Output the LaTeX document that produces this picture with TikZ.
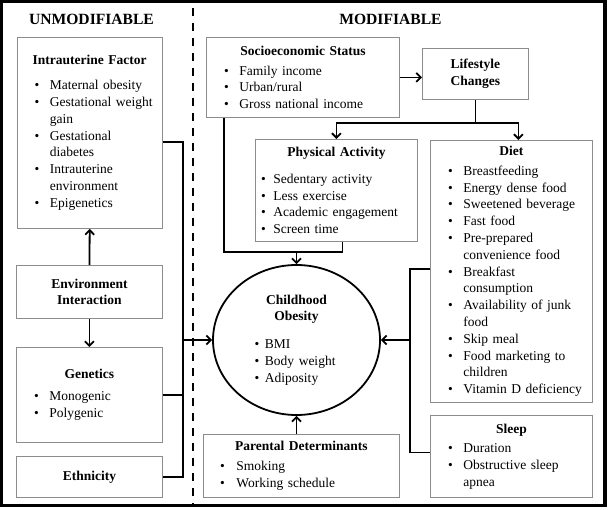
\documentclass[tikz,border=0pt]{standalone}
\usepackage{fontspec}
\setmainfont{Liberation Serif}
\usetikzlibrary{arrows.meta,shapes.geometric}
\definecolor{boxgray}{HTML}{8C8C8C}
\newlength{\txtind}
\newlength{\bulgap}
\setlength{\txtind}{29pt}
\setlength{\bulgap}{10.5pt}
\newcommand{\btitle}[2][3pt]{{\centering\bfseries #2\par}\vspace{#1}}
\newcommand{\bitem}[1]{{\leftskip=\txtind\noindent\llap{\textbullet\hspace{\bulgap}}#1\par}}
\newcommand{\bodyfont}{\fontsize{13.5}{16.8}\selectfont}

\begin{document}
\begin{tikzpicture}[x=1pt,y=-1pt,>=Stealth]
\tikzset{
  factorbox/.style={draw=boxgray, line width=0.9pt, anchor=north west,
    inner xsep=4pt, inner ysep=0pt, font=\bodyfont},
  plainbox/.style={factorbox, align=center, font=\bodyfont\bfseries},
  headline/.style={font=\fontsize{15.6}{18}\selectfont\bfseries},
  conn/.style={line width=1.8pt},
  arr/.style={conn, -{Straight Barb[length=4.5pt,width=9pt]}},
}
\useasboundingbox (0,0) rectangle (609,510);
\draw[line width=3.5pt] (1.5,1.5) rectangle (605,505.5);
\draw[line width=1.8pt, dash pattern=on 8pt off 7pt] (193,8) -- (193,505);

% headings
\node[headline] (unmodhead) at (91.5,19) {UNMODIFIABLE};
\node[headline] (modhead) at (390.5,19) {MODIFIABLE};

% unmodifiable factors
\node[factorbox, minimum width=145.5pt, minimum height=191pt, text width=137.5pt] (intra) at (16.5,37) {%
  \btitle[8pt]{Intrauterine Factor}
  \bitem{Maternal obesity}
  \bitem{Gestational weight\\gain}
  \bitem{Gestational\\diabetes}
  \bitem{Intrauterine\\environment}
  \bitem{Epigenetics}};
\node[plainbox, minimum width=146pt, minimum height=53pt] (env) at (16,265) {Environment\\Interaction};
\node[factorbox, minimum width=146pt, minimum height=95pt, text width=138pt] (gen) at (16,347) {%
  \btitle[5pt]{Genetics}
  \bitem{Monogenic}
  \bitem{Polygenic}};
\node[plainbox, minimum width=146pt, minimum height=41pt] (eth) at (16,456) {Ethnicity};

% modifiable factors
\node[factorbox, minimum width=193pt, minimum height=80pt, text width=185pt] (socio) at (206,37) {%
  \btitle{Socioeconomic Status}
  \bitem{Family income}
  \bitem{Urban/rural}
  \bitem{Gross national income}};
\node[plainbox, minimum width=106pt, minimum height=51pt] (life) at (422,48) {Lifestyle\\Changes};
\node[factorbox, minimum width=162pt, minimum height=102pt, text width=154pt] (phys) at (255,139) {%
  \setlength{\txtind}{14pt}\setlength{\bulgap}{7.6pt}%
  \btitle[10pt]{Physical Activity}
  \bitem{Sedentary activity}
  \bitem{Less exercise}
  \bitem{Academic engagement}
  \bitem{Screen time}};
\node[factorbox, minimum width=162pt, minimum height=262pt, text width=154pt] (diet) at (430,140) {%
  \btitle{Diet}
  \bitem{Breastfeeding}
  \bitem{Energy dense food}
  \bitem{Sweetened beverage}
  \bitem{Fast food}
  \bitem{Pre-prepared\\convenience food}
  \bitem{Breakfast\\consumption}
  \bitem{Availability of junk\\food}
  \bitem{Skip meal}
  \bitem{Food marketing to\\children}
  \bitem{Vitamin D deficiency}};
\node[factorbox, minimum width=162pt, minimum height=82pt, text width=154pt] (sleep) at (430,415) {%
  \btitle{Sleep}
  \bitem{Duration}
  \bitem{Obstructive sleep\\apnea}};
\node[factorbox, minimum width=196pt, minimum height=63pt, text width=188pt] (parent) at (203,434) {%
  \setlength{\txtind}{29pt}\setlength{\bulgap}{11.6pt}%
  \btitle{Parental Determinants}
  \bitem{Smoking}
  \bitem{Working schedule}};

% outcome
\node[ellipse, draw, line width=1.8pt, minimum width=167pt, minimum height=150pt,
  inner sep=0pt, text width=100pt, font=\bodyfont] (obes) at (296.5,340) {%
  \setlength{\txtind}{18.5pt}\setlength{\bulgap}{5.6pt}%
  \btitle[11pt]{Childhood\\Obesity}
  \bitem{BMI}
  \bitem{Body weight}
  \bitem{Adiposity}};

% left bus
\coordinate (lbus) at (obes.west -| 183,0);
\draw[conn] ([yshift=-9pt]intra.east) -| (lbus);
\draw[conn] (gen.east) -- (gen.east -| lbus);
\draw[conn] (eth.east) -| (lbus);
\draw[arr] (lbus) -- (obes.west);
\draw[arr] (env.north) -- (intra.south);
\draw[arr] (env.south) -- (gen.north);

% top links
\draw[arr] (socio.east) -- (socio.east -| life.west);
\coordinate (lsplit) at (life.south |- 0,123);
\draw[conn] (life.south) -- (lsplit);
\draw[arr] (lsplit) -| (phys.north);
\draw[arr] (lsplit) -| ([xshift=7pt]diet.north);
\coordinate (tjoin) at (obes.north |- 0,252);
\draw[conn] ([xshift=18pt]socio.south west) |- (tjoin) -| ([xshift=6pt]phys.south);
\draw[arr] (tjoin) -- (obes.north);
\draw[arr] (parent.north -| obes.south) -- (obes.south);

% right bus
\coordinate (rbus) at (obes.east -| 410,0);
\draw[conn] (diet.west |- 0,269) -| (rbus);
\draw[conn] ([yshift=4pt]sleep.west) -| (rbus);
\draw[arr] (rbus) -- (obes.east);
\end{tikzpicture}
\end{document}
